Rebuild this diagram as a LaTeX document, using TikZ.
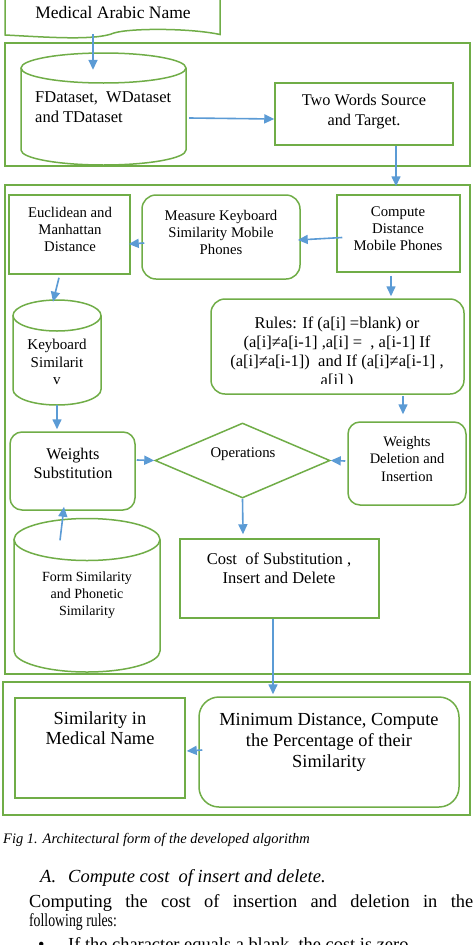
\documentclass[tikz,border=0pt]{standalone}
\usepackage{fontspec}
\setmainfont{Liberation Serif}
\usetikzlibrary{arrows.meta,calc,shapes.geometric}
\definecolor{grn}{RGB}{112,173,71}
\definecolor{blu}{RGB}{91,155,213}
\newcommand{\fs}[2]{\fontsize{#1}{#2}\selectfont}
\newcommand{\cylpath}[5]{%
  \draw[gline] (#1,#3) ellipse [x radius=#2, y radius=#5];
  \draw[gline] ({#1-#2},#3) -- ({#1-#2},#4)
    .. controls ({#1-#2},{#4+0.552*#5}) and ({#1-0.552*#2},{#4+#5}) .. (#1,{#4+#5})
    .. controls ({#1+0.552*#2},{#4+#5}) and ({#1+#2},{#4+0.552*#5}) .. ({#1+#2},#4)
    -- ({#1+#2},#3);}
\begin{document}
\begin{tikzpicture}[x=1pt,y=-1pt,
  gline/.style={draw=grn,line width=1.5pt},
  arr/.style={draw=blu,line width=1.6pt,-{Triangle[length=10pt,width=9pt]}},
  box/.style={gline,rectangle,inner sep=0pt},
  rbox/.style={box,rounded corners=14pt},
  txt/.style={inner sep=0pt,align=center,text=black}]
\clip (0,0) rectangle (474,945);
\fill[white] (0,0) rectangle (474,945);

% document shape
\draw[gline] (5,-5) -- (5,35) .. controls (45,37) and (95,41) .. (114,33)
  .. controls (130,28) and (190,28) .. (220,34.5) -- (220,-5);
\node[txt,font={\fs{17.5}{20}}] (doc) at (113,13) {Medical Arabic Name};

% block 1
\node[box,minimum width=465pt,minimum height=123pt] (out1) at (237.5,104.5) {};
\cylpath{103.5}{82.5}{68}{150}{15}
\node[inner sep=0pt,minimum width=165pt,minimum height=112pt] (dataset) at (103.5,109) {};
\node[txt,anchor=west,align=left,font={\fs{16.5}{20}}] (datasetT) at (35,107) {FDataset,\ \ WDataset\\and TDataset};
\node[box,minimum width=178pt,minimum height=62pt] (two) at (364,114) {};
\node[txt,font={\fs{16.3}{20}}] (twoT) at (364,112) {Two Words Source\\and Target.};

% block 2
\node[box,minimum width=465pt,minimum height=489pt] (out2) at (237.5,429.5) {};
\node[box,minimum width=121pt,minimum height=79pt] (eucl) at (69.5,234.5) {};
\node[txt,font={\fs{14.75}{17}}] (euclT) at (70,229) {Euclidean and\\Manhattan\\Distance};
\node[rbox,minimum width=158pt,minimum height=84pt] (meas) at (221,237) {};
\node[txt,font={\fs{14.75}{17}}] (measT) at (221,232) {Measure Keyboard\\Similarity Mobile\\Phones};
\node[box,minimum width=123pt,minimum height=77pt] (comp) at (398.5,233.5) {};
\node[txt,font={\fs{14.75}{17}}] (compT) at (398,229) {Compute\\Distance\\Mobile Phones};

\cylpath{57}{44}{315.5}{389.5}{15.5}
\node[inner sep=0pt,minimum width=88pt,minimum height=105pt] (kb) at (57,352.5) {};
\node[txt,font={\fs{15}{17.5}}] (kbT) at (57,362) {Keyboard\\Similarit\\v};

\node[rbox,minimum width=253pt,minimum height=95pt] (rules) at (337.5,346.5) {};
\begin{scope}
\clip (212,300) rectangle (463,383.5);
\node[txt,font={\fs{16.5}{19}}] (rulesT) at (337,353) {Rules: If (a[i] =blank) or\\(a[i]≠a[i-1] ,a[i] =\ \ , a[i-1] If\\(a[i]≠a[i-1])\ \ and If (a[i]≠a[i-1] ,\\a[i] )};
\end{scope}

\node[rbox,rounded corners=12pt,minimum width=125pt,minimum height=78pt] (ws) at (72.5,471) {};
\node[txt,font={\fs{16.3}{19}}] (wsT) at (73,463) {Weights\\Substitution};
\node[diamond,gline,inner sep=0pt,minimum width=175pt,minimum height=75pt,aspect=2.33] (ops) at (242.5,460.5) {};
\node[txt,font={\fs{14.8}{17}}] (opsT) at (243,454) {Operations};
\node[rbox,rounded corners=12pt,minimum width=118pt,minimum height=83pt] (wd) at (407,463.5) {};
\node[txt,font={\fs{14.5}{17.5}}] (wdT) at (407,459) {Weights\\Deletion and\\Insertion};

\cylpath{87}{73}{539.5}{651}{21}
\node[inner sep=0pt,minimum width=146pt,minimum height=153.5pt] (form) at (87,595.25) {};
\node[txt,font={\fs{14}{17}}] (formT) at (87,595) {Form Similarity\\and Phonetic\\Similarity};

\node[box,minimum width=199pt,minimum height=79pt] (cost) at (279.5,578.5) {};
\node[txt,font={\fs{16.5}{19}}] (costT) at (279,568) {Cost\ \ of Substitution ,\\Insert and Delete};

% block 3
\node[box,minimum width=467pt,minimum height=133pt] (out3) at (236.5,748.5) {};
\node[box,minimum width=170pt,minimum height=100pt] (sim) at (100,748) {};
\node[txt,font={\fs{18.4}{20}}] (simT) at (100,728) {Similarity in\\Medical Name};
\node[rbox,rounded corners=20pt,minimum width=260pt,minimum height=110pt] (min) at (329,752) {};
\node[txt,font={\fs{18.4}{21}}] (minT) at (329,742) {Minimum Distance, Compute\\the Percentage of their\\Similarity};

% arrows
\draw[arr] ($(doc.south)+(-20,15)$) -- ($(dataset.north)+(-10.5,17)$);
\draw[arr] ($(dataset.east)+(3,9)$) -- ($(two.west)+(0,5)$);
\draw[arr] ($(two.south)+(32,0)$) -- ($(out2.north)+(158.5,2)$);
\draw[arr] ($(comp.west)+(6,4)$) -- ($(meas.east)+(-3,3)$);
\draw[arr] ($(meas.west)+(3,6)$) -- ($(eucl.east)+(-2,9.5)$);
\draw[arr] ($(eucl.south)+(-10.5,3)$) -- ($(kb.north)+(-4,2)$);
\draw[arr] ($(comp.south)+(-7.5,3)$) -- ($(rules.north)+(53.5,-2)$);
\draw[arr] (kb.south) -- ($(ws.north)+(-15.5,-2)$);
\draw[arr] ($(rules.south)+(65.5,1)$) -- ($(wd.north)+(-4,-7)$);
\draw[arr] ($(ws.east)+(1,-11)$) -- (ops.west);
\draw[arr] ($(wd.west)+(-2,-2.5)$) -- (ops.east);
\draw[arr] (ops.south) -- ($(cost.north)+(-36.5,-4)$);
\draw[arr] ($(form.north)+(-27,22)$) -- ($(ws.south)+(-8.5,-4)$);
\draw[arr] ($(cost.south)+(-6.5,0)$) -- ($(min.north)+(-56,-2)$);
\draw[arr] ($(min.west)+(4,-2)$) -- ($(sim.east)+(1,3)$);

% text below
\node[anchor=base west,inner sep=0pt,font={\fs{14.5}{17}\itshape}] (cap) at (3,843) {Fig 1. Architectural form of the developed algorithm};
\node[anchor=base west,inner sep=0pt,font={\fs{18.5}{21}\itshape}] (secA) at (40,882) {A.};
\node[anchor=base west,inner sep=0pt,font={\fs{18.5}{21}\itshape}] (secT) at (68,882) {Compute cost\ \ of insert and delete.};
\node[anchor=base west,inner sep=0pt,font={\fs{18.4}{21}}] (par1) at (29,907) {\makebox[444pt][s]{Computing the cost of insertion and deletion in the}};
\node[anchor=base west,inner sep=0pt,xscale=0.75,font={\fs{18.4}{21}}] (par2) at (29,926) {following rules:};
\node[anchor=base west,inner sep=0pt,font={\fs{18.4}{21}}] (bul) at (38,950) {•};
\node[anchor=base west,inner sep=0pt,font={\fs{18.4}{21}}] (bulT) at (68,950) {If the character equals a blank, the cost is zero.};
\end{tikzpicture}
\end{document}
